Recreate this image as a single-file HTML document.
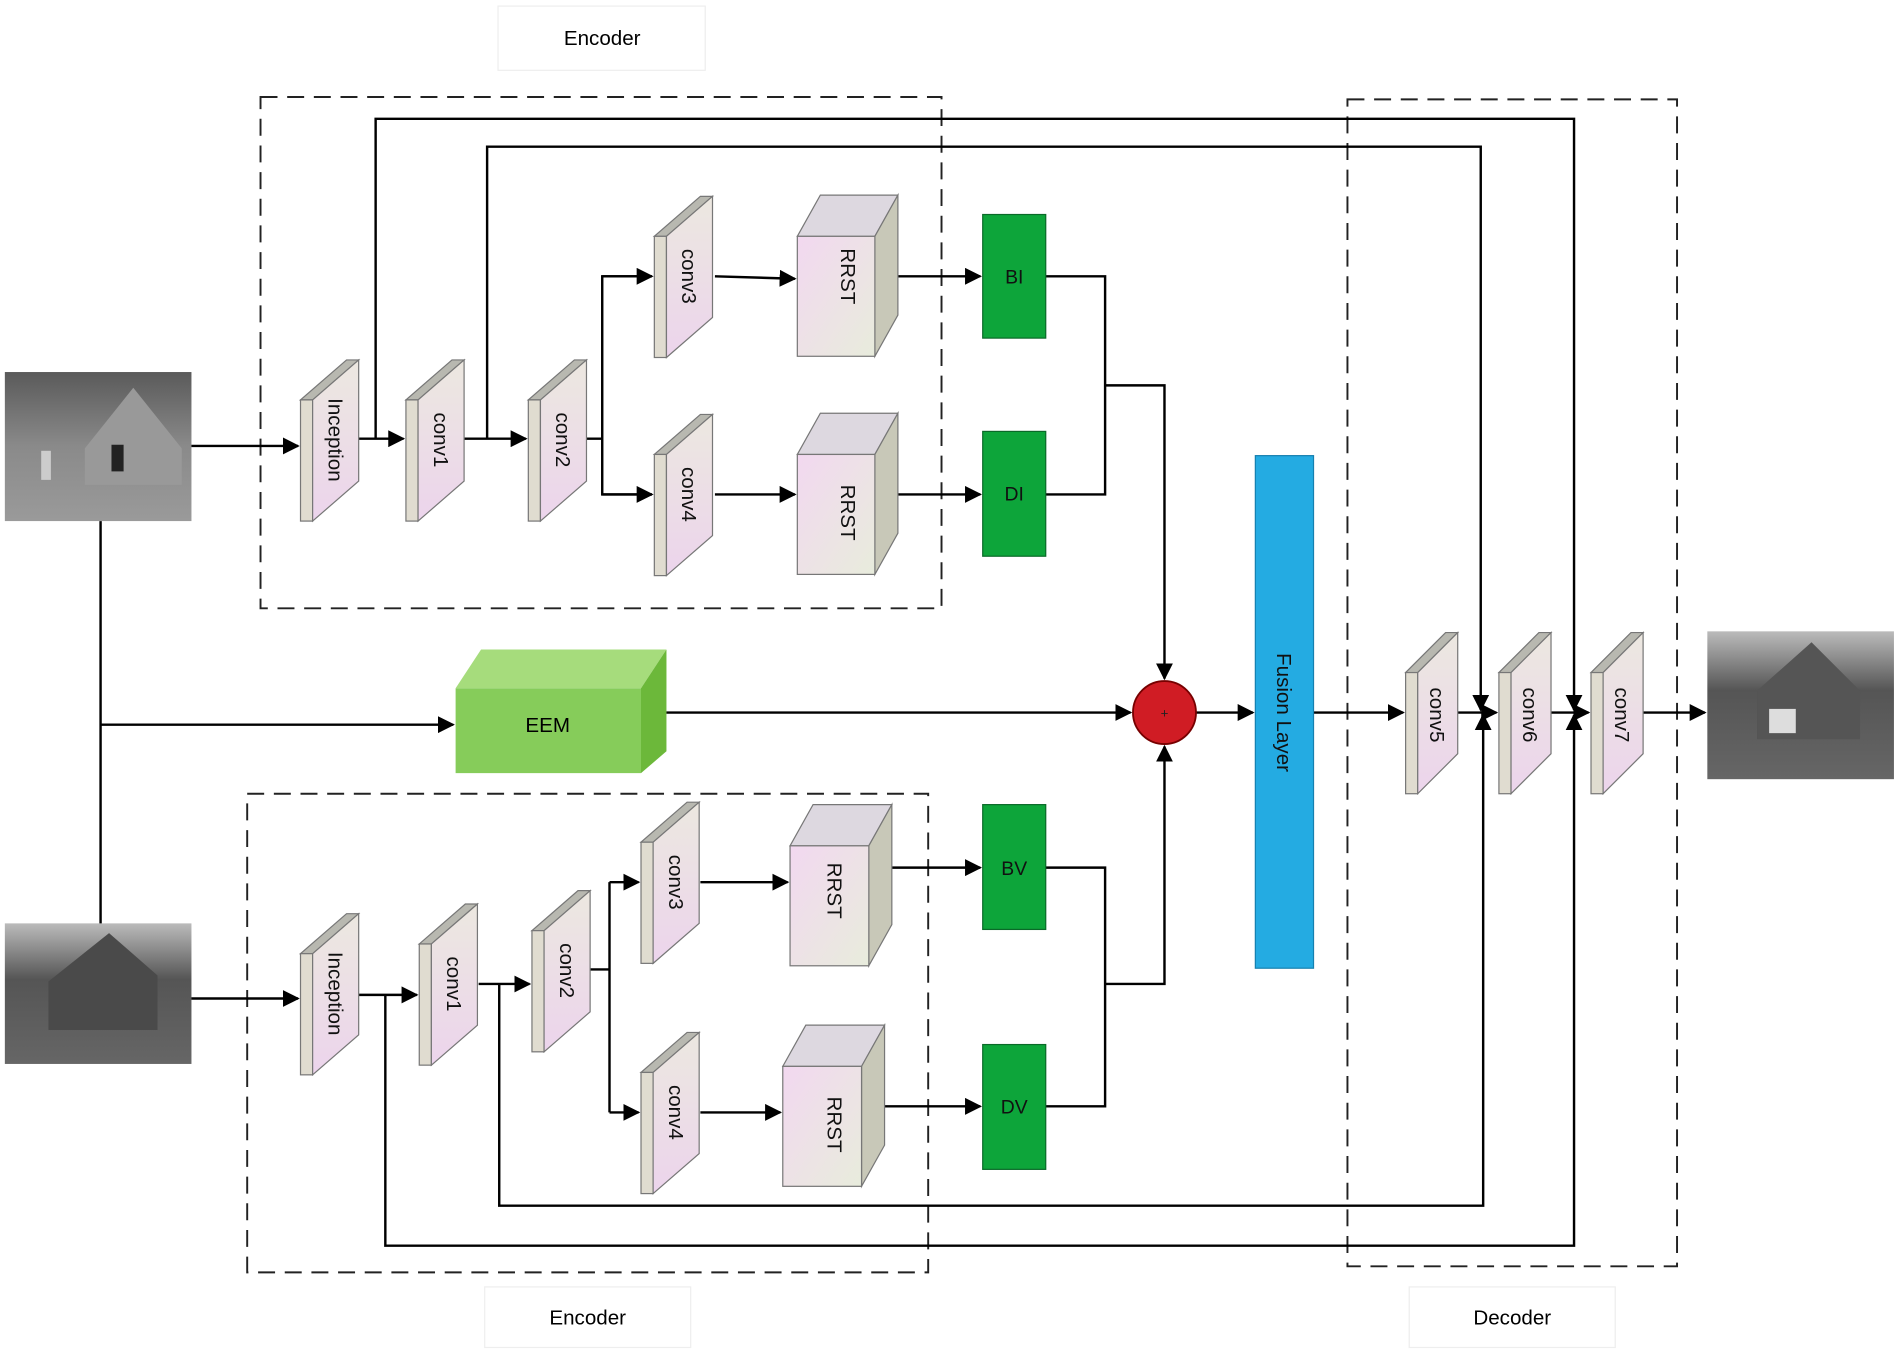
<!DOCTYPE html>
<html><head><meta charset="utf-8"><style>
html,body{margin:0;padding:0;background:#fff;}
svg{display:block;}
text{font-family:"Liberation Sans","DejaVu Sans",sans-serif;}
</style></head><body>
<svg width="1900" height="1356" viewBox="0 0 1568 1119" xmlns="http://www.w3.org/2000/svg">
<defs>
<linearGradient id="pk" x1="0" y1="0" x2="0" y2="1"><stop offset="0" stop-color="#ece8e0"/><stop offset="1" stop-color="#ecd4ec"/></linearGradient>
<linearGradient id="pk2" x1="0" y1="0" x2="1" y2="1"><stop offset="0" stop-color="#f2d8f0"/><stop offset="1" stop-color="#e8ecdc"/></linearGradient>
<marker id="a" viewBox="0 0 10 10" refX="9" refY="5" markerWidth="14" markerHeight="14" markerUnits="userSpaceOnUse" orient="auto"><path d="M0,0 L10,5 L0,10 z" fill="#000"/></marker>
<linearGradient id="ph" x1="0" y1="0" x2="0" y2="1"><stop offset="0" stop-color="#5a5a5a"/><stop offset="0.5" stop-color="#8a8a8a"/><stop offset="1" stop-color="#9a9a9a"/></linearGradient>
<linearGradient id="ph2" x1="0" y1="0" x2="0" y2="1"><stop offset="0" stop-color="#bbb"/><stop offset="0.4" stop-color="#555"/><stop offset="1" stop-color="#666"/></linearGradient>
</defs>

<!-- label boxes -->
<rect x="411" y="5" width="171" height="53" fill="#fff" stroke="#eee"/>
<text x="497" y="37" font-size="17" text-anchor="middle">Encoder</text>
<rect x="400" y="1062" width="170" height="50" fill="#fff" stroke="#eee"/>
<text x="485" y="1093" font-size="17" text-anchor="middle">Encoder</text>
<rect x="1163" y="1062" width="170" height="50" fill="#fff" stroke="#eee"/>
<text x="1248" y="1093" font-size="17" text-anchor="middle">Decoder</text>

<!-- dashed boxes -->
<g fill="none" stroke="#222" stroke-width="1.6" stroke-dasharray="14,8">
<rect x="215" y="80" width="562" height="422"/>
<rect x="204" y="655" width="562" height="395"/>
<rect x="1112" y="82" width="272" height="963"/>
</g>

<!-- photos -->
<rect x="4" y="307" width="154" height="123" fill="url(#ph)"/>
<polygon points="70,370 110,320 150,370 150,400 70,400" fill="#999"/>
<rect x="92" y="367" width="10" height="22" fill="#222"/>
<rect x="34" y="372" width="8" height="24" fill="#ccc"/>
<rect x="4" y="762" width="154" height="116" fill="url(#ph2)"/>
<polygon points="40,810 90,770 130,805 130,850 40,850" fill="#4a4a4a"/>
<rect x="1409" y="521" width="154" height="122" fill="url(#ph2)"/>
<polygon points="1450,570 1495,530 1535,570 1535,610 1450,610" fill="#555"/>
<rect x="1460" y="585" width="22" height="20" fill="#ddd"/>

<!-- connectors -->
<g fill="none" stroke="#000" stroke-width="2">
<line x1="158" y1="368" x2="246" y2="368" marker-end="url(#a)"/>
<line x1="296" y1="362" x2="333" y2="362" marker-end="url(#a)"/>
<polyline points="310,362 310,98 1299,98 1299,586" marker-end="url(#a)"/>
<line x1="383" y1="362" x2="434" y2="362" marker-end="url(#a)"/>
<polyline points="402,362 402,121 1222,121 1222,586" marker-end="url(#a)"/>
<polyline points="475,362 497,362"/>
<polyline points="538,228 497,228 497,408 538,408"/>
<line x1="497" y1="228" x2="538" y2="228" marker-end="url(#a)"/>
<line x1="497" y1="408" x2="538" y2="408" marker-end="url(#a)"/>
<line x1="590" y1="228" x2="656" y2="230" marker-end="url(#a)"/>
<line x1="590" y1="408" x2="656" y2="408" marker-end="url(#a)"/>
<line x1="741" y1="228" x2="809" y2="228" marker-end="url(#a)"/>
<line x1="741" y1="408" x2="809" y2="408" marker-end="url(#a)"/>
<polyline points="863,228 912,228 912,408 863,408"/>
<polyline points="912,318 961,318 961,560" marker-end="url(#a)"/>
<line x1="83" y1="430" x2="83" y2="762"/>
<line x1="83" y1="598" x2="374" y2="598" marker-end="url(#a)"/>
<line x1="550" y1="588" x2="933" y2="588" marker-end="url(#a)"/>
<line x1="987" y1="588" x2="1034" y2="588" marker-end="url(#a)"/>
<line x1="1084" y1="588" x2="1158" y2="588" marker-end="url(#a)"/>
<line x1="1203" y1="588" x2="1235" y2="588" marker-end="url(#a)"/>
<line x1="1280" y1="588" x2="1311" y2="588" marker-end="url(#a)"/>
<line x1="1356" y1="588" x2="1407" y2="588" marker-end="url(#a)"/>
<line x1="158" y1="824" x2="246" y2="824" marker-end="url(#a)"/>
<line x1="296" y1="821" x2="344" y2="821" marker-end="url(#a)"/>
<polyline points="318,821 318,1028 1299,1028 1299,590" marker-end="url(#a)"/>
<line x1="395" y1="812" x2="437" y2="812" marker-end="url(#a)"/>
<polyline points="412,812 412,995 1224,995 1224,590" marker-end="url(#a)"/>
<polyline points="487,800 503,800"/>
<polyline points="503,728 503,918"/>
<line x1="503" y1="728" x2="527" y2="728" marker-end="url(#a)"/>
<line x1="503" y1="918" x2="527" y2="918" marker-end="url(#a)"/>
<line x1="578" y1="728" x2="650" y2="728" marker-end="url(#a)"/>
<line x1="578" y1="918" x2="644" y2="918" marker-end="url(#a)"/>
<line x1="735" y1="716" x2="809" y2="716" marker-end="url(#a)"/>
<line x1="730" y1="913" x2="809" y2="913" marker-end="url(#a)"/>
<polyline points="863,716 912,716 912,913 863,913"/>
<polyline points="912,812 961,812 961,616" marker-end="url(#a)"/>
</g>

<!-- slabs -->
<g stroke="#777" stroke-width="1">
<!-- template: strip x..x+10, top t, bottom b, back offset 38 right, 34 up -->
<g id="s1">
<polygon points="248,330 258,330 296,297 286,297" fill="#b8b8b0"/>
<rect x="248" y="330" width="10" height="100" fill="#e0dcd0"/>
<polygon points="258,330 296,297 296,397 258,430" fill="url(#pk)"/>
</g>
<polygon points="335,330 345,330 383,297 373,297" fill="#b8b8b0"/><rect x="335" y="330" width="10" height="100" fill="#e0dcd0"/><polygon points="345,330 383,297 383,397 345,430" fill="url(#pk)"/>
<polygon points="436,330 446,330 484,297 474,297" fill="#b8b8b0"/><rect x="436" y="330" width="10" height="100" fill="#e0dcd0"/><polygon points="446,330 484,297 484,397 446,430" fill="url(#pk)"/>
<polygon points="540,195 550,195 588,162 578,162" fill="#b8b8b0"/><rect x="540" y="195" width="10" height="100" fill="#e0dcd0"/><polygon points="550,195 588,162 588,262 550,295" fill="url(#pk)"/>
<polygon points="540,375 550,375 588,342 578,342" fill="#b8b8b0"/><rect x="540" y="375" width="10" height="100" fill="#e0dcd0"/><polygon points="550,375 588,342 588,442 550,475" fill="url(#pk)"/>
<polygon points="248,787 258,787 296,754 286,754" fill="#b8b8b0"/><rect x="248" y="787" width="10" height="100" fill="#e0dcd0"/><polygon points="258,787 296,754 296,854 258,887" fill="url(#pk)"/>
<polygon points="346,779 356,779 394,746 384,746" fill="#b8b8b0"/><rect x="346" y="779" width="10" height="100" fill="#e0dcd0"/><polygon points="356,779 394,746 394,846 356,879" fill="url(#pk)"/>
<polygon points="439,768 449,768 487,735 477,735" fill="#b8b8b0"/><rect x="439" y="768" width="10" height="100" fill="#e0dcd0"/><polygon points="449,768 487,735 487,835 449,868" fill="url(#pk)"/>
<polygon points="529,695 539,695 577,662 567,662" fill="#b8b8b0"/><rect x="529" y="695" width="10" height="100" fill="#e0dcd0"/><polygon points="539,695 577,662 577,762 539,795" fill="url(#pk)"/>
<polygon points="529,885 539,885 577,852 567,852" fill="#b8b8b0"/><rect x="529" y="885" width="10" height="100" fill="#e0dcd0"/><polygon points="539,885 577,852 577,952 539,985" fill="url(#pk)"/>
<polygon points="1160,555 1170,555 1203,522 1193,522" fill="#b8b8b0"/><rect x="1160" y="555" width="10" height="100" fill="#e0dcd0"/><polygon points="1170,555 1203,522 1203,622 1170,655" fill="url(#pk)"/>
<polygon points="1237,555 1247,555 1280,522 1270,522" fill="#b8b8b0"/><rect x="1237" y="555" width="10" height="100" fill="#e0dcd0"/><polygon points="1247,555 1280,522 1280,622 1247,655" fill="url(#pk)"/>
<polygon points="1313,555 1323,555 1356,522 1346,522" fill="#b8b8b0"/><rect x="1313" y="555" width="10" height="100" fill="#e0dcd0"/><polygon points="1323,555 1356,522 1356,622 1323,655" fill="url(#pk)"/>

<!-- RRST cubes -->
<polygon points="658,195 677,161 741,161 722,195" fill="#ddd8e0"/><polygon points="722,195 741,161 741,260 722,294" fill="#c8c8b8"/><rect x="658" y="195" width="64" height="99" fill="url(#pk2)"/>
<polygon points="658,375 677,341 741,341 722,375" fill="#ddd8e0"/><polygon points="722,375 741,341 741,440 722,474" fill="#c8c8b8"/><rect x="658" y="375" width="64" height="99" fill="url(#pk2)"/>
<polygon points="652,698 671,664 736,664 717,698" fill="#ddd8e0"/><polygon points="717,698 736,664 736,763 717,797" fill="#c8c8b8"/><rect x="652" y="698" width="65" height="99" fill="url(#pk2)"/>
<polygon points="646,880 665,846 730,846 711,880" fill="#ddd8e0"/><polygon points="711,880 730,846 730,945 711,979" fill="#c8c8b8"/><rect x="646" y="880" width="65" height="99" fill="url(#pk2)"/>
</g>

<!-- green boxes -->
<g fill="#0da53a" stroke="#0a6a28" stroke-width="1">
<rect x="811" y="177" width="52" height="102"/>
<rect x="811" y="356" width="52" height="103"/>
<rect x="811" y="664" width="52" height="103"/>
<rect x="811" y="862" width="52" height="103"/>
</g>
<g font-size="16" text-anchor="middle" fill="#111">
<text x="837" y="234">BI</text><text x="837" y="413">DI</text><text x="837" y="722">BV</text><text x="837" y="919">DV</text>
</g>

<!-- EEM -->
<polygon points="376,568 397,536 550,536 529,568" fill="#a6dc7c"/>
<polygon points="529,568 550,536 550,620 529,638" fill="#6cb83a"/>
<rect x="376" y="568" width="153" height="70" fill="#86cc5a"/>
<text x="452" y="604" font-size="17" text-anchor="middle">EEM</text>

<!-- fusion -->
<rect x="1036" y="376" width="48" height="423" fill="#24abe2" stroke="#1580b0"/>
<circle cx="961" cy="588" r="26" fill="#d01c24" stroke="#700" stroke-width="1.5"/>
<text x="961" y="592" font-size="11" text-anchor="middle" fill="#222">+</text>

<!-- rotated labels -->
<g font-size="17" fill="#111" text-anchor="middle">
<text transform="translate(277,363) rotate(90)" dy="6">Inception</text>
<text transform="translate(364,363) rotate(90)" dy="6">conv1</text>
<text transform="translate(465,363) rotate(90)" dy="6">conv2</text>
<text transform="translate(569,228) rotate(90)" dy="6">conv3</text>
<text transform="translate(569,408) rotate(90)" dy="6">conv4</text>
<text transform="translate(700,228) rotate(90)" dy="6">RRST</text>
<text transform="translate(700,423) rotate(90)" dy="6">RRST</text>
<text transform="translate(277,820) rotate(90)" dy="6">Inception</text>
<text transform="translate(375,812) rotate(90)" dy="6">conv1</text>
<text transform="translate(468,801) rotate(90)" dy="6">conv2</text>
<text transform="translate(558,728) rotate(90)" dy="6">conv3</text>
<text transform="translate(558,918) rotate(90)" dy="6">conv4</text>
<text transform="translate(689,735) rotate(90)" dy="6">RRST</text>
<text transform="translate(689,928) rotate(90)" dy="6">RRST</text>
<text transform="translate(1186,590) rotate(90)" dy="6">conv5</text>
<text transform="translate(1263,590) rotate(90)" dy="6">conv6</text>
<text transform="translate(1339,590) rotate(90)" dy="6">conv7</text>
<text transform="translate(1060,588) rotate(90)" dy="6">Fusion Layer</text>
</g>
</svg>
</body></html>
